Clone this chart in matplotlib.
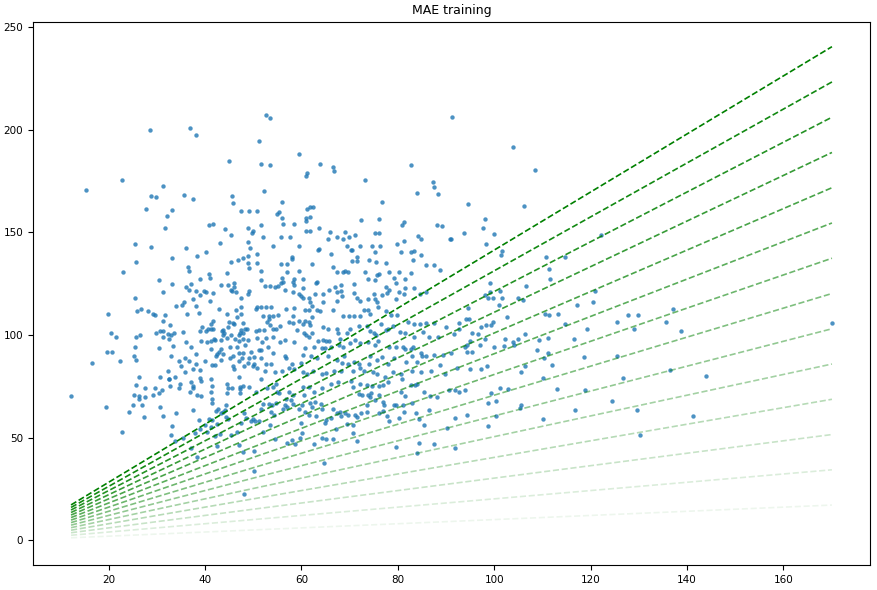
import matplotlib
matplotlib.use("Agg")
import matplotlib.pyplot as plt
import numpy as np

# ---- data (x, y) ----
pts_top_left = [(28.6,199.9),(36.9,200.8),(38.1,197.4),(51.2,194.5),(45.0,184.7),(22.8,175.5),(15.3,170.6),(31.3,172.5),(28.8,167.7),(29.8,167.2),(35.6,168.2),(37.5,166.2),(45.6,167.7),(45.8,164.3),(27.7,161.3),(33.2,160.8),(32.1,157.9),(47.5,160.3),(49.1,160.3),(50.8,160.3),(31.7,152.0),(40.8,153.5),(41.7,154.0),(44.1,151.6),(45.4,148.6),(48.9,152.0),(50.0,150.6),(49.8,149.6)]

pts_top_mid = [(52.7,207.2),(53.5,205.7),(91.2,206.2),(59.5,188.1),(51.6,183.3),(53.5,182.8),(63.9,183.3),(66.6,181.8),(66.8,179.8),(61.2,178.9),(60.9,177.4),(82.7,182.8),(73.2,175.5),(52.2,170.1),(87.3,174.5),(87.5,172.0),(84.0,169.1),(88.3,168.6),(56.0,164.7),(76.7,164.7),(61.2,161.3),(61.8,162.3),(62.4,162.3),(55.3,159.9),(54.9,158.9),(56.0,156.9),(56.2,154.0),(58.5,154.0),(60.9,156.9),(60.9,155.5),(61.8,157.4),(63.7,152.0),(60.9,150.6),(61.8,150.6),(65.9,150.1),(69.1,150.1),(71.1,148.6),(72.4,155.9),(76.1,156.4),(75.3,149.6),(76.1,149.6),(80.9,153.5),(81.3,155.0),(88.1,153.5),(89.2,153.0),(51.6,153.5),(52.0,147.7),(55.8,147.7),(57.6,147.7),(67.4,147.7),(69.9,147.7),(84.2,148.1),(91.0,146.8)]

pts_top_right = [(103.9,191.5),(108.5,180.3),(94.6,163.7),(106.2,162.7),(98.1,156.4),(97.7,152.0),(93.7,149.6),(100.0,149.1),(122.2,148.6)]

pts_mid_left = [(25.5,144.2),(28.8,142.9),(36.1,142.2),(43.1,144.7),(48.9,145.2),(49.3,142.2),(38.3,138.3),(40.2,140.3),(33.2,137.4),(25.7,135.4),(47.9,137.4),(46.9,136.4),(45.4,135.4),(48.9,138.3),(50.8,139.3),(48.9,134.9),(49.1,132.5),(50.8,134.9),(23.0,130.5),(36.5,133.0),(36.7,131.0),(40.8,129.6),(41.0,127.6),(30.5,126.6),(33.2,124.7),(37.1,124.7),(39.0,127.1),(44.6,130.1),(36.1,123.2),(36.7,121.8),(38.1,121.3),(39.8,121.3),(40.2,120.8),(39.0,119.3),(41.7,120.3),(43.3,124.2),(44.8,124.2),(46.0,125.2),(46.0,123.2),(45.4,121.8),(45.6,121.3),(46.4,120.8),(49.1,121.3),(48.9,119.8),(31.3,120.8),(25.5,118.3),(37.5,117.4),(41.0,116.4),(35.6,115.9),(35.2,114.9),(34.0,114.0),(38.1,114.4),(47.5,117.9),(47.5,113.5),(46.4,112.0),(47.5,110.5),(50.8,113.5),(50.6,112.5),(42.9,112.5),(44.6,110.5),(38.8,111.0),(36.3,110.1),(26.7,112.5),(25.9,111.5),(28.2,111.5),(29.2,110.1),(29.6,109.6),(31.7,109.6),(19.9,110.1),(31.3,107.1),(32.7,104.7),(41.7,107.1),(41.2,105.2),(45.0,106.6),(45.8,106.1),(46.0,105.2),(46.6,108.6),(47.9,106.1),(40.6,103.2),(41.2,103.2),(41.7,103.2),(39.4,103.7),(39.0,101.8),(40.2,102.2),(43.7,102.7),(43.5,101.8),(43.7,99.8),(44.8,103.7),(44.0,100.8),(47.5,102.7),(48.3,103.2),(48.7,103.2),(50.6,101.8),(51.2,102.7),(47.3,100.8),(47.1,99.8),(47.9,100.8),(30.7,101.8),(31.3,102.2),(29.8,100.8),(32.3,100.3),(33.0,99.8),(33.6,100.8),(35.4,101.3),(20.5,100.8),(21.5,99.3),(25.7,99.3),(26.5,99.8),(31.3,99.3),(32.5,97.9),(41.9,98.3),(44.6,98.8),(45.4,99.8),(46.2,98.3),(47.9,98.3),(50.8,98.8),(39.2,96.9),(40.4,96.4),(41.2,96.9),(42.1,97.4),(43.3,97.4),(47.1,96.9),(48.9,97.4),(36.1,96.4),(33.4,94.9),(30.5,93.5),(25.5,94.4),(37.1,94.0),(41.2,93.0),(43.3,93.0),(42.9,92.0),(42.5,91.0),(43.7,91.0),(42.3,90.0),(45.2,94.4),(46.6,94.0),(48.3,95.4),(47.9,91.5),(47.1,91.5),(49.5,92.0),(51.2,92.5),(19.7,92.0),(20.7,92.0),(33.0,89.6),(38.1,91.0),(25.3,89.6),(25.7,88.1),(22.4,87.6),(16.6,86.6),(34.6,87.6),(35.9,88.6),(36.7,87.6),(38.1,86.1),(40.0,87.6),(43.3,88.1),(45.2,88.6),(45.8,89.6),(47.7,88.6),(49.1,88.6),(50.2,89.1),(47.1,87.6),(48.9,86.6),(50.2,86.1),(35.0,84.7),(37.5,83.7),(39.0,83.2),(41.5,85.2),(42.1,85.2),(45.8,84.7),(46.0,83.7),(48.1,84.7),(50.0,84.7),(35.9,81.8),(32.3,82.7),(26.3,79.8),(30.7,79.8),(32.5,78.8),(33.8,79.8),(39.0,79.3),(47.1,79.8),(50.8,84.2)]

pts_mid_center = [(54.1,143.5),(59.5,143.5),(65.5,146.8),(68.6,146.8),(69.5,143.2),(70.5,141.4),(72.2,143.2),(74.7,143.2),(76.3,143.2),(79.8,144.2),(81.3,145.7),(84.8,146.8),(90.8,146.8),(58.1,137.9),(58.1,136.9),(55.8,134.4),(57.0,134.4),(62.2,134.4),(63.5,141.3),(63.7,141.8),(66.2,139.3),(70.3,141.3),(71.5,137.9),(70.5,135.9),(71.5,135.9),(74.0,136.4),(75.3,140.3),(75.5,135.4),(77.6,134.9),(80.7,140.3),(82.8,140.3),(83.4,140.8),(84.8,138.8),(83.2,136.4),(51.6,131.0),(59.5,131.0),(57.0,130.5),(66.6,133.0),(67.4,130.5),(68.6,130.5),(69.1,131.0),(69.7,130.5),(73.2,130.5),(76.1,129.6),(75.7,129.1),(78.2,130.5),(80.3,130.5),(82.8,130.1),(85.9,134.0),(87.5,134.0),(88.8,131.5),(81.5,127.1),(79.2,127.6),(79.6,125.2),(77.6,123.2),(78.2,122.2),(73.8,127.1),(75.3,126.6),(70.9,124.7),(68.2,124.2),(67.0,123.2),(65.7,121.8),(63.2,126.1),(63.0,125.2),(60.3,127.3),(58.5,127.1),(58.3,125.7),(55.9,127.6),(56.1,126.1),(55.8,125.2),(51.6,126.6),(52.5,123.7),(53.5,123.7),(54.5,123.2),(55.1,123.7),(56.6,122.2),(58.5,124.2),(58.3,120.8),(59.5,119.8),(60.3,122.7),(60.3,117.9),(59.9,119.2),(61.6,117.9),(61.8,115.9),(62.8,119.8),(64.5,119.8),(64.5,115.9),(67.4,120.8),(68.2,121.3),(68.4,119.2),(67.4,116.4),(70.9,120.3),(71.5,118.3),(72.2,116.4),(75.1,119.8),(75.3,117.4),(75.7,115.9),(75.9,113.5),(76.7,119.3),(77.8,120.3),(79.6,117.4),(80.3,120.8),(81.3,119.8),(81.5,122.7),(83.4,122.7),(84.6,119.8),(85.9,120.8),(51.6,113.5),(52.7,113.5),(53.7,113.5),(56.8,112.5),(55.1,109.6),(52.0,109.1),(53.3,109.1),(54.1,109.1),(58.3,109.1),(58.5,113.0),(60.8,112.0),(61.6,112.0),(62.2,114.4),(63.2,112.0),(63.9,111.5),(66.6,112.0),(68.6,109.1),(69.9,109.1),(70.9,109.1),(72.2,109.1),(73.0,112.0),(73.8,112.0),(73.8,117.4),(74.2,110.5),(77.6,111.5),(78.6,109.6),(79.8,109.6),(82.1,106.6),(83.4,105.2),(84.6,105.2),(85.9,106.1),(87.5,106.1),(90.0,104.0),(92.7,105.7),(52.9,106.6),(53.3,107.6),(54.1,103.2),(54.7,103.2),(53.5,104.7),(52.3,102.7),(52.7,98.8),(51.8,96.4),(54.1,99.3),(55.6,104.2),(57.4,106.6),(58.3,106.1),(59.5,107.1),(60.8,107.1),(61.6,106.6),(62.2,108.6),(61.8,104.7),(60.3,105.2),(59.1,102.7),(60.5,100.8),(60.9,99.8),(61.6,99.3),(62.2,100.8),(64.5,103.7),(65.5,103.2),(67.4,103.2),(67.6,100.8),(68.0,98.3),(69.5,100.8),(70.1,103.2),(72.0,104.2),(73.6,104.2),(74.2,102.2),(75.1,100.8),(75.5,99.8),(76.5,105.2),(77.6,102.7),(78.0,103.2),(79.0,104.2),(80.5,101.3),(81.5,100.8),(83.4,99.3),(85.2,101.3),(86.5,99.3),(88.3,99.3),(91.7,100.3),(53.1,94.4),(54.1,91.5),(51.6,92.5),(55.6,96.4),(56.6,97.4),(58.5,96.4),(60.8,93.5),(62.6,94.4),(63.5,96.9),(64.5,97.4),(65.1,96.9),(65.7,96.9),(64.3,93.5),(64.9,93.5),(66.1,94.4),(67.8,95.4),(68.6,94.4),(70.1,95.9),(71.1,97.4),(72.2,95.9),(73.8,96.4),(75.3,95.4),(75.9,96.9),(78.2,94.0),(79.6,94.4),(81.1,94.0),(81.5,93.0),(82.8,93.0),(83.2,94.4),(84.8,91.5),(85.0,89.6),(87.5,90.5),(89.4,90.5),(91.0,91.5),(51.6,88.6),(52.7,86.1),(53.7,85.7),(56.6,89.6),(56.8,88.6),(58.1,86.1),(59.9,86.6),(60.3,90.5),(62.0,89.6),(63.2,88.6),(65.5,90.0),(67.4,88.1),(68.4,86.6),(68.8,89.6),(69.7,85.7),(70.9,87.1),(72.0,85.7),(74.0,86.1),(74.2,89.6),(75.7,88.1),(76.7,89.1),(78.0,86.1),(79.2,88.6),(81.7,87.1),(83.0,90.0),(84.0,87.1),(85.9,90.0),(88.8,85.2),(52.5,82.7),(54.5,81.8),(56.0,82.7),(57.4,84.2),(58.5,83.7),(60.3,81.8),(61.2,80.8),(62.4,82.3),(64.3,80.8),(65.1,81.3),(66.8,82.3),(68.2,82.3),(70.7,82.7),(72.2,84.2),(73.0,82.7),(74.9,81.8),(75.7,80.8),(77.4,79.8),(79.0,81.8),(80.7,80.8),(83.0,82.7),(84.8,81.8),(86.9,82.7),(89.8,80.8),(92.3,84.2)]

pts_mid_right = [(98.3,144.2),(101.6,140.8),(101.4,138.8),(110.8,137.9),(114.7,137.9),(111.4,132.0),(111.6,127.1),(99.1,125.2),(106.6,123.7),(101.2,121.3),(120.9,121.3),(98.1,119.3),(98.7,118.3),(99.8,118.3),(101.6,118.3),(99.1,120.8),(104.9,117.9),(106.0,116.9),(101.0,114.9),(117.2,114.9),(120.5,115.9),(94.6,113.0),(110.5,110.5),(111.4,109.6),(113.2,110.5),(102.7,108.6),(94.2,107.6),(94.8,107.6),(99.8,106.6),(99.3,104.7),(98.3,104.7),(97.3,103.7),(114.7,105.2),(125.5,106.6),(127.8,109.6),(129.8,109.6),(129.0,103.2),(119.3,103.2),(95.4,100.8),(96.6,100.3),(98.1,97.9),(106.4,100.3),(102.2,97.9),(104.9,98.3),(111.2,98.8),(109.3,97.4),(116.6,98.3),(95.0,96.9),(94.4,95.4),(94.0,94.4),(97.1,95.4),(100.0,94.0),(102.0,94.9),(103.9,96.4),(104.1,95.4),(94.4,92.0),(95.4,92.0),(108.9,92.5),(111.2,91.5),(110.3,88.6),(118.6,89.1),(125.5,90.0),(95.0,83.7),(97.3,83.7),(98.5,84.7),(106.4,84.7),(105.6,82.2),(112.0,85.2),(110.1,79.3),(126.7,79.3),(92.8,103.2),(137.1,112.5),(135.6,106.6),(138.7,101.8),(170.1,106.1),(136.4,83.2),(143.9,80.3)]

pts_low_left = [(12.2,70.5),(19.5,65.2),(22.8,53.0),(25.7,75.9),(27.6,74.4),(29.6,74.4),(31.1,73.0),(30.5,72.0),(29.2,71.0),(25.3,71.0),(26.3,70.5),(26.3,69.1),(27.6,69.6),(25.1,66.1),(27.0,65.7),(24.2,62.7),(27.3,60.3),(30.7,65.2),(31.3,60.8),(32.5,78.5),(32.7,75.4),(34.8,76.4),(34.6,74.4),(37.1,76.9),(37.5,75.4),(37.5,74.4),(36.9,72.5),(38.3,71.0),(39.2,70.5),(39.2,77.4),(41.2,78.5),(41.5,75.4),(41.2,72.5),(41.5,69.1),(41.5,67.1),(44.6,76.4),(44.8,74.4),(44.6,72.0),(45.6,74.4),(47.3,74.9),(47.3,73.5),(47.3,72.0),(47.9,75.4),(49.1,74.9),(50.6,72.5),(44.4,65.7),(42.7,64.2),(42.3,63.2),(43.3,61.8),(43.7,62.7),(44.1,63.7),(37.5,63.7),(34.0,61.8),(38.8,58.8),(40.8,59.3),(41.5,58.8),(41.2,55.4),(40.4,53.0),(37.9,52.5),(39.0,54.0),(40.0,56.4),(42.5,56.9),(42.1,51.0),(43.1,52.0),(44.4,60.3),(44.8,59.3),(45.4,51.5),(46.6,53.0),(48.1,61.8),(48.5,59.8),(49.5,58.3),(50.4,57.9),(50.0,59.3),(51.2,58.3),(47.5,57.4),(33.2,55.9),(33.0,51.5),(33.8,48.6),(35.4,50.0),(37.1,45.2),(38.3,40.8),(42.5,46.1),(47.1,46.6),(47.9,43.2),(50.2,43.7),(50.2,33.9),(48.1,22.7)]

pts_low_center = [(51.6,78.5),(52.9,74.4),(54.1,74.9),(54.7,76.4),(54.9,72.5),(55.4,72.0),(57.4,72.5),(56.8,69.1),(57.8,68.6),(58.3,71.0),(60.3,74.9),(60.5,71.0),(61.6,74.9),(62.6,72.5),(64.3,74.0),(66.1,76.4),(67.6,76.9),(70.3,77.4),(70.7,74.9),(72.2,76.4),(73.6,75.9),(74.7,75.4),(76.1,75.4),(76.9,75.9),(78.0,76.9),(80.9,78.5),(83.6,75.9),(84.0,76.4),(53.3,66.6),(53.9,65.7),(54.7,67.1),(56.6,66.1),(57.0,65.2),(56.2,64.2),(58.3,66.6),(60.1,66.1),(61.8,67.1),(62.2,65.2),(62.8,67.6),(64.1,66.6),(52.0,66.6),(51.6,64.2),(53.7,62.7),(54.3,61.3),(59.5,64.2),(60.8,62.7),(61.6,61.3),(63.0,60.8),(64.3,64.2),(66.6,64.2),(67.4,62.2),(68.0,62.7),(68.2,60.8),(69.1,62.2),(69.7,61.3),(71.1,61.3),(71.5,60.3),(72.4,61.8),(73.6,62.7),(73.6,65.7),(75.3,68.6),(76.1,71.0),(76.9,67.6),(77.1,65.7),(79.2,65.7),(79.6,66.1),(81.1,65.7),(81.3,62.7),(83.0,67.1),(85.4,72.5),(86.7,70.5),(88.1,70.0),(90.6,73.0),(91.9,73.0),(72.0,71.5),(72.6,71.0),(73.8,71.0),(74.2,70.0),(74.4,72.0),(80.7,72.5),(81.5,70.5),(82.8,75.9),(76.9,63.2),(76.1,61.8),(77.8,60.8),(78.2,58.3),(80.3,59.8),(83.8,61.8),(84.4,59.3),(86.5,63.7),(85.4,56.4),(90.2,54.9),(91.9,59.8),(66.1,59.8),(65.1,58.8),(64.9,57.4),(67.2,54.0),(69.5,56.9),(70.7,56.4),(70.7,52.5),(52.0,53.0),(53.5,56.4),(54.5,49.6),(59.9,57.4),(60.1,52.5),(57.0,47.6),(58.1,49.1),(58.7,47.1),(59.7,50.0),(62.6,47.1),(64.3,50.0),(65.1,49.6),(66.6,49.6),(71.5,48.6),(79.6,45.7),(84.4,47.6),(84.0,42.7),(87.5,47.1),(91.9,45.2),(64.7,37.8)]

pts_low_right = [(92.8,72.5),(93.9,73.0),(99.3,72.0),(101.2,74.0),(102.9,73.5),(98.7,67.1),(100.4,68.1),(94.4,61.3),(100.4,60.8),(98.7,55.9),(105.6,65.7),(105.4,64.7),(113.0,73.5),(118.8,73.0),(124.4,68.1),(116.8,63.7),(110.1,59.3),(129.6,63.7),(130.3,51.5),(141.2,60.8)]

# slopes of the dashed lines drawn during training (y = w * x); the first is invisible
line_slopes = [0.0, 0.101, 0.202, 0.303, 0.404, 0.505, 0.606, 0.707, 0.808, 0.909,
               1.010, 1.111, 1.212, 1.313, 1.414]

title_text = "MAE training"

all_pts = (pts_top_left + pts_top_mid + pts_top_right + pts_mid_left + pts_mid_center
           + pts_mid_right + pts_low_left + pts_low_center + pts_low_right)
xs = np.array([p[0] for p in all_pts])
ys = np.array([p[1] for p in all_pts])

fig = plt.figure(figsize=(8.77, 5.90), dpi=100)
ax = fig.add_axes([33/877, 25/590, 837/877, 543/590])

ax.scatter(xs, ys, s=10, color="#1f77b4", alpha=0.8, linewidths=0)

x_line = np.array([xs.min(), xs.max()])
n = len(line_slopes) - 1
for i, w in enumerate(line_slopes):
    ax.plot(x_line, w * x_line, "g--", lw=1.2, alpha=i / n)

ax.set_title(title_text, fontsize=9)
ax.tick_params(labelsize=7.5)

fig.savefig("out.png", dpi=100)
